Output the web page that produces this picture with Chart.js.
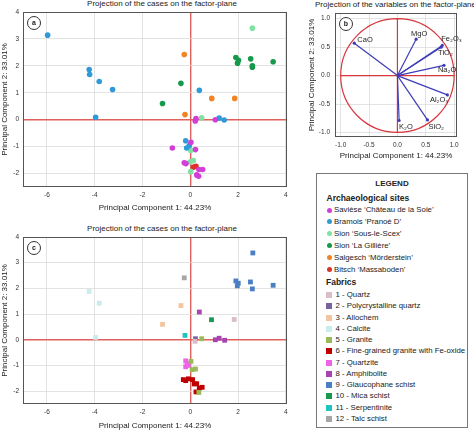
<!DOCTYPE html>
<html>
<head>
<meta charset="utf-8">
<script src="https://cdn.jsdelivr.net/npm/chart.js@4.4.0/dist/chart.umd.min.js"></script>
<style>
html, body { margin: 0; padding: 0; background: #fff; overflow: hidden; }
body { width: 474px; height: 431px; position: relative; font-family: "Liberation Sans", Arial, sans-serif; color: #222; }
canvas { position: absolute; }
.ttl { position: absolute; font-size: 8px; line-height: 10px; white-space: nowrap; }
#legend { position: absolute; left: 316px; top: 173px; width: 150px; height: 253px; border: 1px solid #777; }
#legend div { position: absolute; white-space: nowrap; line-height: 10px; font-size: 7.8px; }
#legend .hd { font-weight: bold; font-size: 8.5px; }
#legend .dot { width: 5px; height: 5px; border-radius: 50%; }
#legend .sq { width: 6px; height: 6px; }
</style>
</head>
<body>
<div class="ttl" style="left:162px;top:-1px;transform:translateX(-50%)">Projection of the cases on the factor-plane</div>
<div class="ttl" style="left:315px;top:0px">Projection of the variables on the factor-plane</div>
<div class="ttl" style="left:162px;top:224px;transform:translateX(-50%)">Projection of the cases on the factor-plane</div>
<canvas id="chartA" width="292" height="216" style="left:0;top:0"></canvas>
<canvas id="chartB" width="174" height="170" style="left:300px;top:0"></canvas>
<canvas id="chartC" width="292" height="211" style="left:0;top:220px"></canvas>
<div id="legend"></div>
<script>
// tick labels
const caseXTicks = [-6, -4, -2, 0, 2, 4];
const caseYTicks = [-2, -1, 0, 1, 2, 3, 4];
const varTicks = [-1, -0.5, 0, 0.5, 1];

// panel a - archaeological sites (PC1, PC2)
const siteNames = ["Savièse ‘Château de la Soie’", "Bramois ‘Pranoé D’", "Sion ‘Sous-le-Scex’",
  "Sion ‘La Gillière’", "Salgesch ‘Mörderstein’", "Bitsch ‘Massaboden’"];
const saviese = [[0.24, 0.04], [0.21, -0.05], [1.05, 0.0], [0.03, -0.84], [-0.75, -1.05], [0.22, -1.11],
  [-0.25, -1.6], [-0.18, -1.63], [0.36, -1.85], [0.52, -1.85], [0.27, -2.05], [0.35, -2.1]];
const bramois = [[-5.97, 3.14], [-4.23, 1.86], [-4.21, 1.68], [-3.81, 1.42], [-3.25, 1.12], [-3.96, 0.09],
  [0.38, 1.09], [1.21, 0.06], [1.42, -0.01], [-0.19, -0.78], [-0.15, -1.05], [-0.04, -0.96]];
const sousLeScex = [[2.6, 3.4], [0.48, 0.07], [0.02, -1.14], [-0.01, -1.57], [0.13, -1.52], [0.02, -1.93]];
const laGilliere = [[-0.39, 1.35], [-1.16, 0.6], [1.91, 2.31], [2.02, 2.21], [1.98, 2.1], [2.53, 2.26],
  [2.6, 2.0], [2.6, 1.95], [3.47, 2.15]];
const salgesch = [[-0.25, 2.42], [0.9, 0.79], [1.86, 0.79], [-0.22, 0.19]];
const bitsch = [[0.24, -1.73], [0.14, -1.76]];
const sitePoints = [saviese, bramois, sousLeScex, laGilliere, salgesch, bitsch];
const siteColors = ["#d23fd6", "#2f9ad6", "#80e2a2", "#17994b", "#f28322", "#e0302a"];

// panel c - fabrics (same factor plane)
const fabricNames = ["1 - Quartz", "2 - Polycrystalline quartz", "3 - Allochem", "4 - Calcite", "5 - Granite",
  "6 - Fine-grained granite with Fe-oxide", "7 - Quartzite", "8 - Amphibolite", "9 - Glaucophane schist",
  "10 - Mica schist", "11 - Serpentinite", "12 - Talc schist"];
const quartz = [[1.84, 0.79], [0.2, -0.06]];
const polyQuartz = [[0.22, 0.04]];
const allochem = [[-0.39, 1.33], [-1.16, 0.6]];
const calcite = [[-4.23, 1.88], [-3.81, 1.42], [-3.96, 0.09]];
const granite = [[0.48, 0.04], [0.03, -0.84], [0.08, -1.16], [0.22, -1.14], [0.36, -2.05]];
const fineGranite = [[-0.29, -1.55], [-0.19, -1.59], [-0.08, -1.52], [0.1, -1.55], [0.17, -1.72],
  [0.27, -1.71], [0.38, -1.88], [0.5, -1.85], [0.24, -2.03]];
const quartzite = [[-0.19, -0.82], [-0.13, -0.92], [-0.19, -1.05], [-0.08, -1.0]];
const amphibolite = [[0.38, 1.08], [1.05, 0.0], [1.21, 0.06], [1.44, -0.02]];
const glaucophane = [[2.62, 3.38], [1.91, 2.29], [2.01, 2.2], [1.97, 2.1], [2.52, 2.25], [2.6, 1.98], [3.47, 2.12]];
const micaSchist = [[0.89, 0.78]];
const serpentinite = [[-0.22, 0.17]];
const talcSchist = [[-0.25, 2.41]];
const fabricPoints = [quartz, polyQuartz, allochem, calcite, granite, fineGranite, quartzite,
  amphibolite, glaucophane, micaSchist, serpentinite, talcSchist];
const fabricColors = ["#d9bec6", "#7a62a0", "#f4c59e", "#c9ecec", "#9aba58", "#c00000", "#f062ea",
  "#a843b0", "#4a7fc4", "#1a9850", "#1fc4bf", "#a6a6a6"];

// panel b - variable loadings
const varNames = ["CaO", "MgO", "Fe₂O₃", "TiO₂", "Na₂O", "Al₂O₃", "SiO₂", "K₂O"];
const varX = [-0.76, 0.33, 0.79, 0.77, 0.82, 0.88, 0.53, 0.03];
const varY = [0.57, 0.64, 0.53, 0.5, 0.18, -0.34, -0.78, -0.79];

const FONT = '"Liberation Sans", Arial, sans-serif';
Chart.defaults.font.family = FONT;
Chart.defaults.color = "#333";

// frame round the plot and the circled panel letter
const framePlugin = {
  id: "frame",
  afterDatasetsDraw(chart, args, opts) {
    const { ctx, chartArea: a } = chart;
    ctx.save();
    ctx.strokeStyle = "#555";
    ctx.lineWidth = 1;
    ctx.strokeRect(a.left + 0.5, a.top + 0.5, a.right - a.left - 1, a.bottom - a.top - 1);
    const cx = a.left + 11, cy = a.top + 11;
    ctx.beginPath();
    ctx.arc(cx, cy, 6.5, 0, Math.PI * 2);
    ctx.fillStyle = "#fff";
    ctx.fill();
    ctx.strokeStyle = "#333";
    ctx.stroke();
    ctx.fillStyle = "#222";
    ctx.font = "bold 7px " + FONT;
    ctx.textAlign = "center";
    ctx.textBaseline = "middle";
    ctx.fillText(opts.letter, cx, cy + 0.5);
    ctx.restore();
  }
};

function fixTicks(list) {
  return (scale) => { scale.ticks = list.map(v => ({ value: v })); };
}

function caseScales(xHeight, titleBottom) {
  const gridColor = (c) => (c.tick && c.tick.value === 0 ? "#e0605c" : "#dcdcdc");
  const gridWidth = (c) => (c.tick && c.tick.value === 0 ? 1.4 : 0.8);
  return {
    x: {
      type: "linear", min: -7, max: 4.05,
      afterBuildTicks: fixTicks(caseXTicks),
      afterFit: (s) => { s.height = xHeight; },
      ticks: { font: { size: 6.5 }, color: "#333", padding: 4 },
      grid: { color: gridColor, lineWidth: gridWidth, drawTicks: false },
      border: { display: false },
      title: { display: true, text: "Principal Component 1: 44.23%", font: { size: 8 }, color: "#222",
        padding: { top: 0, bottom: titleBottom } }
    },
    y: {
      type: "linear", min: -2.5, max: 4,
      afterBuildTicks: fixTicks(caseYTicks),
      afterFit: (s) => { s.width = 23; },
      ticks: { font: { size: 6.5 }, color: "#333", padding: 4 },
      grid: { color: gridColor, lineWidth: gridWidth, drawTicks: false },
      border: { display: false },
      title: { display: true, text: "Principal Component 2: 33.01%", font: { size: 8 }, color: "#222",
        padding: { top: 0, bottom: 0 } }
    }
  };
}

function toXY(pts) {
  return pts.map(p => ({ x: p[0], y: p[1] }));
}

// panel a
new Chart(document.getElementById("chartA"), {
  type: "scatter",
  data: {
    datasets: sitePoints.map((pts, i) => ({
      label: siteNames[i], data: toXY(pts), pointStyle: "circle",
      pointRadius: 2.8, borderWidth: 0, backgroundColor: siteColors[i]
    }))
  },
  options: {
    responsive: false, animation: false, events: [], devicePixelRatio: 1,
    layout: { padding: { left: 0, right: 5, top: 12, bottom: 0 } },
    plugins: { legend: { display: false }, tooltip: { enabled: false }, frame: { letter: "a" } },
    scales: caseScales(29, 3.5)
  },
  plugins: [framePlugin]
});

// panel c
new Chart(document.getElementById("chartC"), {
  type: "scatter",
  data: {
    datasets: fabricPoints.map((pts, i) => ({
      label: fabricNames[i], data: toXY(pts), pointStyle: "rect",
      pointRadius: 3.4, borderWidth: 0, backgroundColor: fabricColors[i]
    }))
  },
  options: {
    responsive: false, animation: false, events: [], devicePixelRatio: 1,
    layout: { padding: { left: 0, right: 5, top: 17, bottom: 0 } },
    plugins: { legend: { display: false }, tooltip: { enabled: false }, frame: { letter: "c" } },
    scales: caseScales(27, 0)
  },
  plugins: [framePlugin]
});

// unit circle and its red diameters, then the variable names
const labelStyle = {
  "CaO": { dx: 3, dy: -3, align: "left" },
  "MgO": { dx: 3, dy: -5, align: "center" },
  "Fe₂O₃": { dx: -1, dy: -6, align: "left" },
  "TiO₂": { dx: -3, dy: 6, align: "left" },
  "Na₂O": { dx: -6, dy: 5, align: "left" },
  "Al₂O₃": { dx: 1, dy: 5, align: "right" },
  "SiO₂": { dx: 1, dy: 7, align: "left" },
  "K₂O": { dx: 0, dy: 6, align: "left" }
};
const circlePlugin = {
  id: "unitCircle",
  beforeDatasetsDraw(chart) {
    const { ctx, scales: { x, y } } = chart;
    const x0 = x.getPixelForValue(0), y0 = y.getPixelForValue(0);
    const rx = x.getPixelForValue(1) - x0, ry = y0 - y.getPixelForValue(1);
    ctx.save();
    ctx.strokeStyle = "#d8353c";
    ctx.lineWidth = 1.2;
    ctx.beginPath();
    ctx.ellipse(x0, y0, rx, ry, 0, 0, Math.PI * 2);
    ctx.moveTo(x.getPixelForValue(-1), y0);
    ctx.lineTo(x.getPixelForValue(1), y0);
    ctx.moveTo(x0, y.getPixelForValue(-1));
    ctx.lineTo(x0, y.getPixelForValue(1));
    ctx.stroke();
    ctx.restore();
  },
  afterDatasetsDraw(chart) {
    const { ctx, scales: { x, y } } = chart;
    ctx.save();
    ctx.fillStyle = "#222";
    ctx.font = "7.5px " + FONT;
    ctx.textBaseline = "middle";
    varNames.forEach((name, i) => {
      const st = labelStyle[name];
      ctx.textAlign = st.align;
      ctx.fillText(name, x.getPixelForValue(varX[i]) + st.dx, y.getPixelForValue(varY[i]) + st.dy);
    });
    ctx.restore();
  }
};

const varGrid = { color: "#dcdcdc", lineWidth: 0.8, drawTicks: false };
new Chart(document.getElementById("chartB"), {
  type: "scatter",
  data: {
    datasets: varNames.map((name, i) => ({
      label: name,
      data: [{ x: 0, y: 0 }, { x: varX[i], y: varY[i] }],
      showLine: true, borderColor: "#3d3db8", borderWidth: 1.2,
      pointRadius: [0, 1.6], pointBackgroundColor: "#3d3db8", pointBorderWidth: 0
    }))
  },
  options: {
    responsive: false, animation: false, events: [], devicePixelRatio: 1,
    layout: { padding: { left: 0, right: 17, top: 13, bottom: 0 } },
    plugins: { legend: { display: false }, tooltip: { enabled: false }, frame: { letter: "b" } },
    scales: {
      x: {
        type: "linear", min: -1.1, max: 1.05,
        afterBuildTicks: fixTicks(varTicks),
        afterFit: (s) => { s.height = 33; },
        ticks: { font: { size: 6.5 }, color: "#333", padding: 4, callback: (v) => Number(v).toFixed(1) },
        grid: varGrid,
        border: { display: false },
        title: { display: true, text: "Principal Component 1: 44.23%", font: { size: 8 }, color: "#222",
          padding: { top: 0, bottom: 9 } }
      },
      y: {
        type: "linear", min: -1.08, max: 1.1,
        afterBuildTicks: fixTicks(varTicks),
        afterFit: (s) => { s.width = 35; },
        ticks: { font: { size: 6.5 }, color: "#333", padding: 5, callback: (v) => Number(v).toFixed(1) },
        grid: varGrid,
        border: { display: false },
        title: { display: true, text: "Principal Component 2: 33.01%", font: { size: 8 }, color: "#222",
          padding: { top: 7, bottom: 0 } }
      }
    }
  },
  plugins: [circlePlugin, framePlugin]
});

// legend box
const legend = document.getElementById("legend");
function addDiv(cls, text, left, top, color) {
  const d = document.createElement("div");
  if (cls) d.className = cls;
  if (text) d.textContent = text;
  d.style.left = left + "px";
  d.style.top = top + "px";
  if (color) d.style.background = color;
  legend.appendChild(d);
  return d;
}
const lg = addDiv("hd", "LEGEND", 0, 5);
lg.style.width = "100%";
lg.style.textAlign = "center";
lg.style.fontSize = "8px";
addDiv("hd", "Archaeological sites", 9.5, 19);
siteNames.forEach((name, i) => {
  const yc = 36 + i * 11.9;
  addDiv("dot", "", 9.5, yc - 2.5, siteColors[i]);
  addDiv("", name, 17, yc - 5);
});
addDiv("hd", "Fabrics", 9, 103);
fabricNames.forEach((name, i) => {
  const yc = 121 + i * 11.27;
  addDiv("sq", "", 9, yc - 3, fabricColors[i]);
  addDiv("", name, 18.5, yc - 5);
});
</script>
</body>
</html>
